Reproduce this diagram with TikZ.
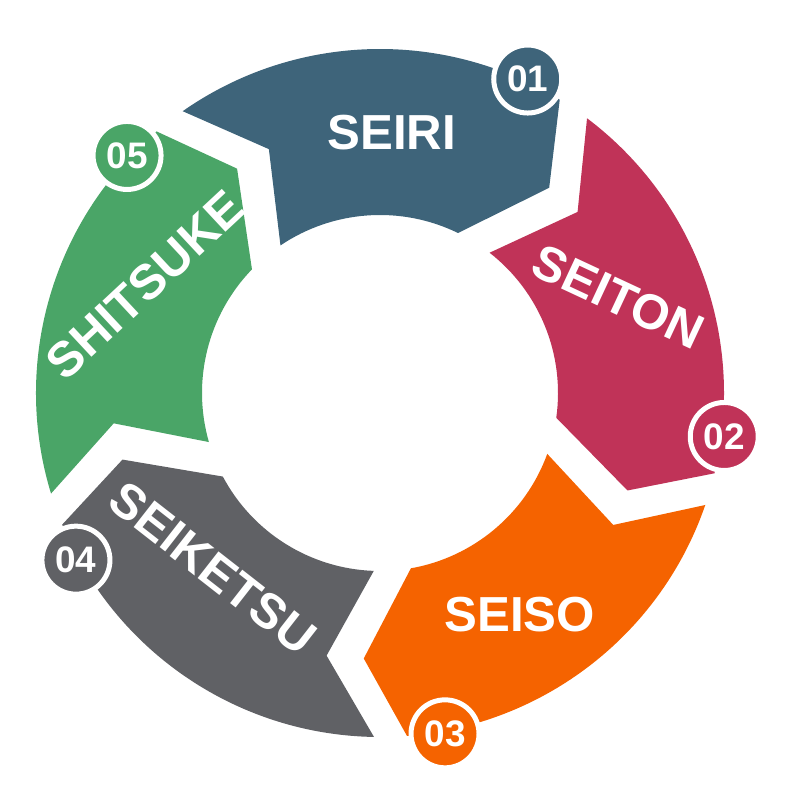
\documentclass[tikz,border=0pt]{standalone}
\usepackage{fontspec}
\setmainfont{Liberation Sans}
\usepackage{tikz}
\definecolor{seiricolor}{RGB}{62,100,122}
\definecolor{seitoncolor}{RGB}{192,51,88}
\definecolor{seisocolor}{RGB}{245,99,0}
\definecolor{seiketsucolor}{RGB}{96,97,101}
\definecolor{shitsukecolor}{RGB}{74,165,103}
\tikzset{
    step label/.style={text=white, inner sep=0pt, font=\fontsize{14}{16}\selectfont\bfseries},
    badge/.style={circle, fill=#1, draw=white, line width=0.05cm, minimum size=0.68cm, inner sep=0pt,
        text=white, font=\fontsize{10.5}{12}\selectfont\bfseries}
}
\begin{document}
\begin{tikzpicture}
    \useasboundingbox (-3.80,-4.07) rectangle (4.20,3.93);

    % Ring segments - one arrow per step, turning clockwise
    \foreach \k/\col in {0/seiricolor,1/seitoncolor,2/seisocolor,3/seiketsucolor,4/shitsukecolor} {
        \pgfmathsetmacro{\rot}{-72*\k}
        \fill[\col] ({125+\rot}:3.44) -- ({114.5+\rot}:2.68) -- ({124+\rot}:1.78)
            arc[start angle={124+\rot}, end angle={64+\rot}, radius=1.78]
            -- ({50.5+\rot}:2.66) -- ({58.5+\rot}:3.44)
            arc[start angle={58.5+\rot}, end angle={125+\rot}, radius=3.44] -- cycle;
    }

    % Step names
    \foreach \k/\word/\ang/\rad/\tilt in {0/SEIRI/87.4/2.61/0, 1/SEITON/22/2.57/-25,
        2/SEISO/-57.8/2.62/0, 3/SEIKETSU/226.3/2.42/-38, 4/SHITSUKE/155.3/2.59/43} {
        \node[step label, rotate=\tilt] (T-\k) at (\ang:\rad) {\word};
    }

    % Number badges on the outer rim
    \foreach \k/\num/\col in {0/01/seiricolor,1/02/seitoncolor,2/03/seisocolor,3/04/seiketsucolor,4/05/shitsukecolor} {
        \node[badge=\col] (B-\k) at ({64.8-72*\k}:3.47) {\num};
    }
\end{tikzpicture}
\end{document}
